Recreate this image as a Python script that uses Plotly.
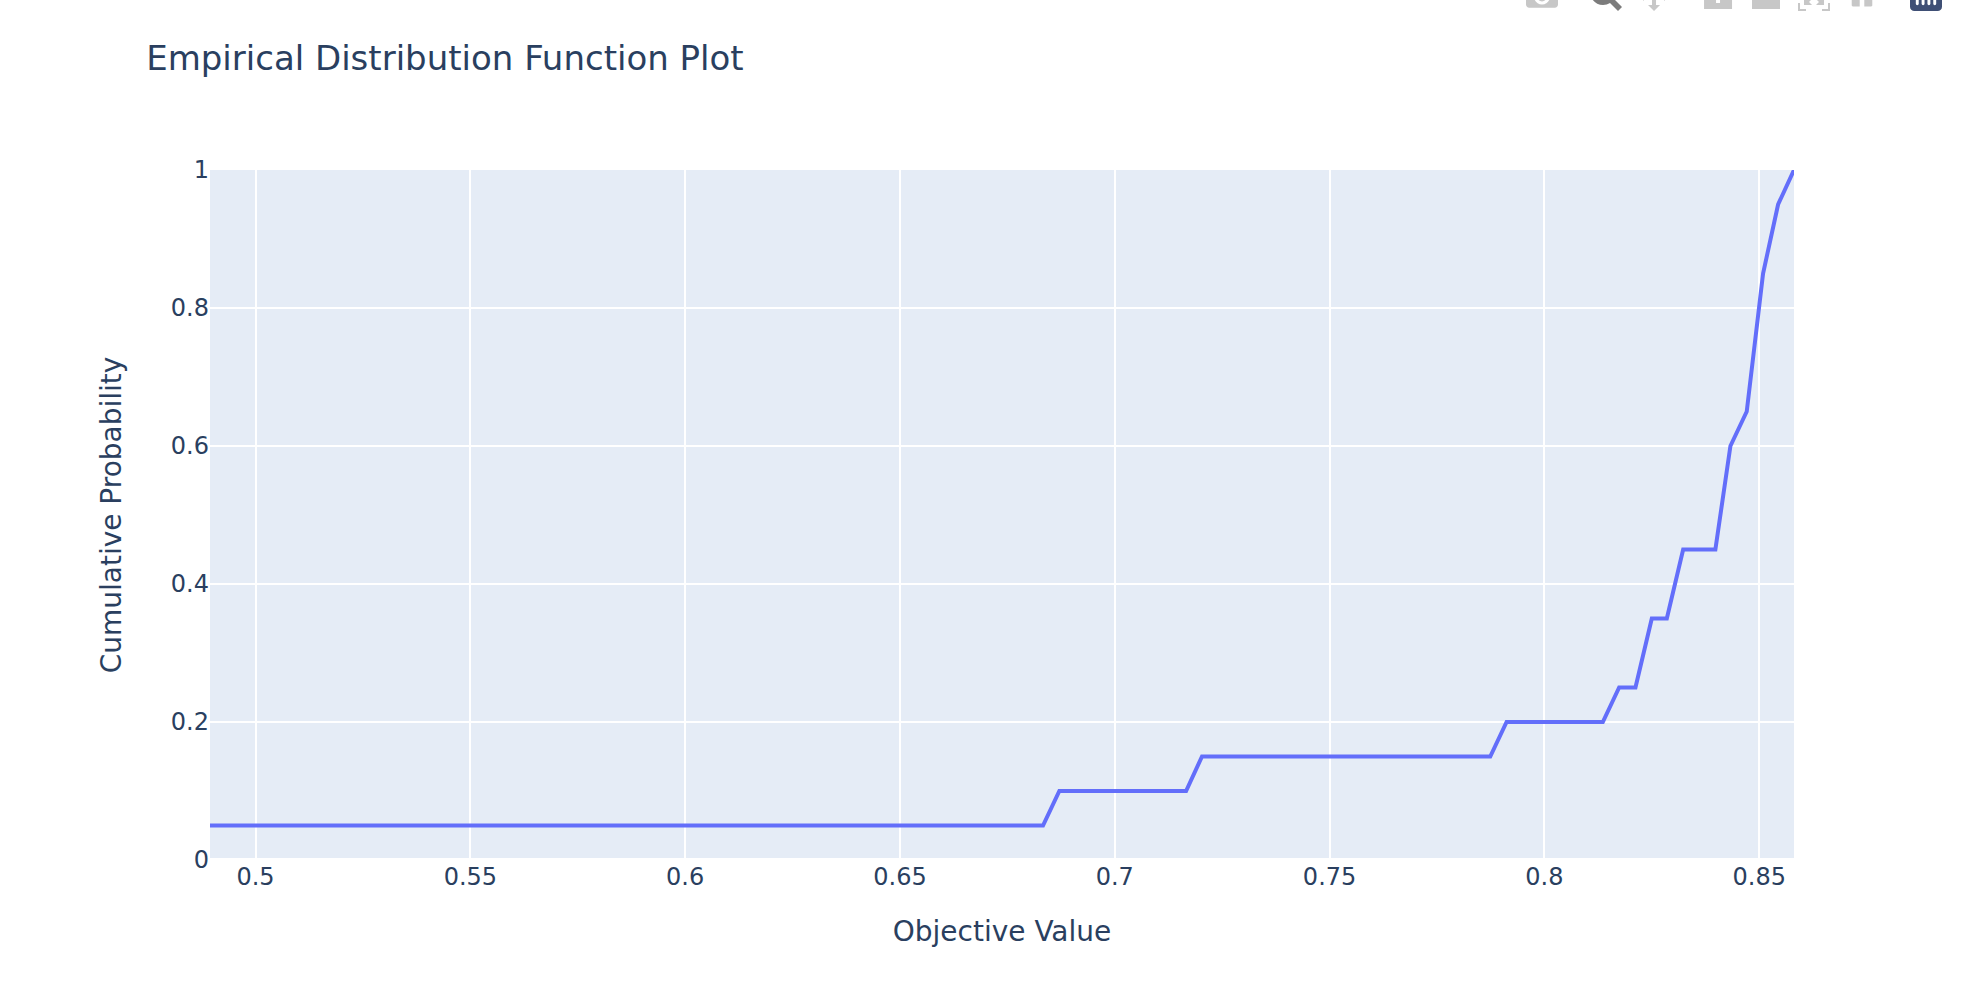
import plotly.graph_objects as go

objective_values = [0.4894, 0.6833, 0.6871, 0.7166, 0.7203, 0.7874, 0.7912, 0.8136, 0.8174, 0.8212,
                    0.8250, 0.8285, 0.8323, 0.8398, 0.8433, 0.8471, 0.8509, 0.8544, 0.8581]
cumulative_prob = [0.05, 0.05, 0.10, 0.10, 0.15, 0.15, 0.20, 0.20, 0.25, 0.25,
                   0.35, 0.35, 0.45, 0.45, 0.60, 0.65, 0.85, 0.95, 1.0]
x_ticks = [0.5, 0.55, 0.6, 0.65, 0.7, 0.75, 0.8, 0.85]
x_labels = ["0.5", "0.55", "0.6", "0.65", "0.7", "0.75", "0.8", "0.85"]
y_ticks = [0, 0.2, 0.4, 0.6, 0.8, 1]
y_labels = ["0", "0.2", "0.4", "0.6", "0.8", "1"]

fig = go.Figure(go.Scatter(x=objective_values, y=cumulative_prob, mode="lines",
                           line=dict(color="#636efa", width=4), cliponaxis=True))
fig.update_layout(
    template="plotly",
    width=1962, height=984,
    margin=dict(l=210, r=168, t=170, b=124),
    font=dict(size=24, family="DejaVu Sans"),
    title=dict(text="Empirical Distribution Function Plot", font=dict(size=34), x=0.0745, xanchor="left", y=0.953),
    xaxis=dict(title=dict(text="Objective Value", font=dict(size=28), standoff=31), range=[0.4894, 0.8581],
               tickvals=x_ticks, ticktext=x_labels, gridwidth=2, zeroline=False),
    yaxis=dict(title=dict(text="Cumulative Probability", font=dict(size=28), standoff=41), range=[0, 1],
               tickvals=y_ticks, ticktext=y_labels, gridwidth=2, zeroline=True, zerolinewidth=4, zerolinecolor="white"),
)
post = """
document.body.style.margin = '0';
document.documentElement.style.overflow = 'hidden';
var s = document.createElement('style');
s.textContent = '.modebar{transform:scale(2);transform-origin:top right;top:-27px !important;right:12px !important;} .modebar-btn--logo svg rect{fill:#3f4f75 !important;}';
document.head.appendChild(s);
"""
fig.write_html("out.html", config={"displayModeBar": True}, post_script=post)
